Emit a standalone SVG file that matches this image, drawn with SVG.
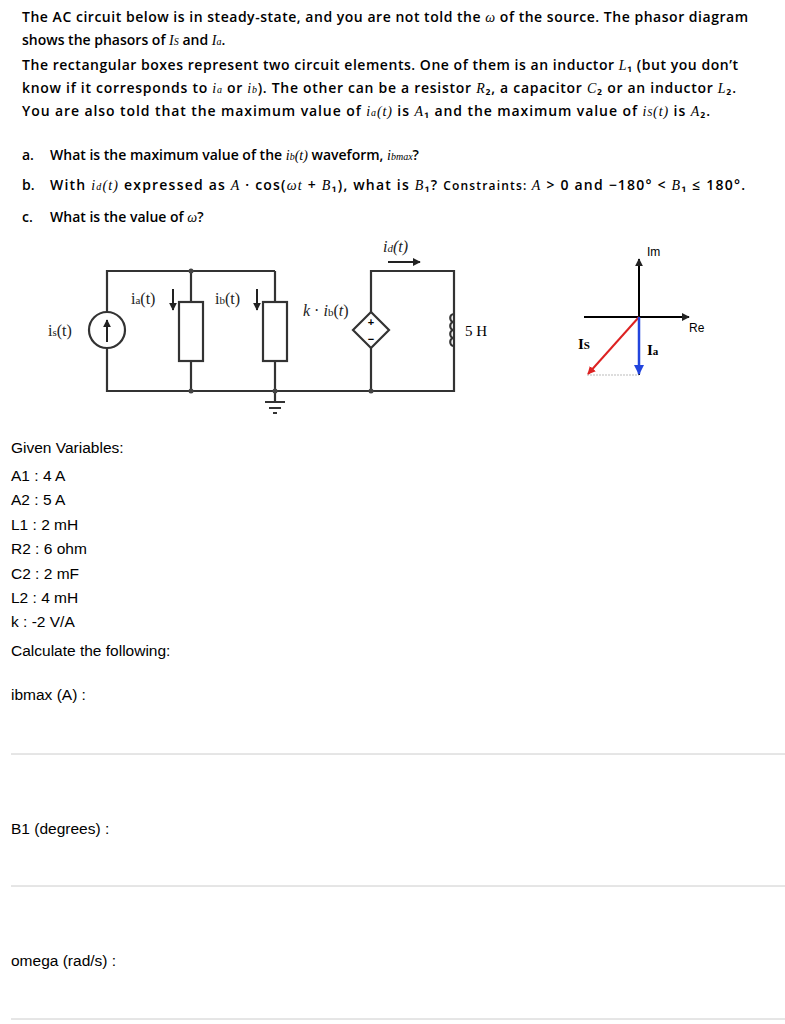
<svg xmlns="http://www.w3.org/2000/svg" width="785" height="1024" viewBox="0 0 785 1024">
<style>
.h{font-family:"Open Sans","Liberation Sans",sans-serif;font-size:14px;font-weight:600;fill:#000}
.m{font-family:"Liberation Serif",serif;font-style:italic;font-weight:normal}
.b{font-family:"Liberation Sans",Arial,sans-serif;font-size:15.5px;fill:#000}
.w{stroke:#333;stroke-width:2.2;fill:none}
.c{font-family:"Liberation Serif",serif;font-size:16px;fill:#222}
.ax{stroke:#000;stroke-width:2}
</style>
<defs>
<marker id="ar" viewBox="0 0 10 10" refX="9" refY="5" markerWidth="4" markerHeight="4" orient="auto"><path d="M0,0L10,5L0,10z" fill="#222"/></marker>
<marker id="red" viewBox="0 0 10 10" refX="9" refY="5" markerWidth="4" markerHeight="4" orient="auto"><path d="M0,0L10,5L0,10z" fill="#d22"/></marker>
<marker id="blu" viewBox="0 0 10 10" refX="9" refY="5" markerWidth="4" markerHeight="4" orient="auto"><path d="M0,0L10,5L0,10z" fill="#2244dd"/></marker>
</defs>
<rect width="785" height="1024" fill="#fff"/>
<g id="header">
<text class="h" x="22" y="22" textLength="726">The AC circuit below is in steady-state, and you are not told the <tspan class="m">ω</tspan> of the source. The phasor diagram</text>
<text class="h" x="22" y="45">shows the phasors of <tspan class="m">I<tspan font-size="10">S</tspan></tspan> and <tspan class="m">I<tspan font-size="10">a</tspan></tspan>.</text>
<text class="h" x="22" y="70" textLength="716">The rectangular boxes represent two circuit elements. One of them is an inductor <tspan class="m">L</tspan>₁ (but you don’t</text>
<text class="h" x="22" y="93" textLength="714">know if it corresponds to <tspan class="m">i<tspan font-size="10">a</tspan></tspan> or <tspan class="m">i<tspan font-size="10">b</tspan></tspan>). The other can be a resistor <tspan class="m">R</tspan>₂, a capacitor <tspan class="m">C</tspan>₂ or an inductor <tspan class="m">L</tspan>₂.</text>
<text class="h" x="22" y="116" textLength="688">You are also told that the maximum value of <tspan class="m">i<tspan font-size="10">a</tspan>(t)</tspan> is <tspan class="m">A</tspan>₁ and the maximum value of <tspan class="m">i<tspan font-size="10">S</tspan>(t)</tspan> is <tspan class="m">A</tspan>₂.</text>
<text class="h" x="22" y="160">a.</text>
<text class="h" x="50" y="160">What is the maximum value of the <tspan class="m">i<tspan font-size="10">b</tspan>(t)</tspan> waveform, <tspan class="m">i<tspan font-size="10">bmax</tspan></tspan>?</text>
<text class="h" x="22" y="190">b.</text>
<text class="h" x="50" y="190" textLength="695">With <tspan class="m">i<tspan font-size="10">d</tspan>(t)</tspan> expressed as <tspan class="m">A</tspan> · cos(<tspan class="m">ωt</tspan> + <tspan class="m">B</tspan>₁), what is <tspan class="m">B</tspan>₁? <tspan font-size="12">Constraints: </tspan><tspan class="m">A</tspan> &gt; 0 and −180° &lt; <tspan class="m">B</tspan>₁ ≤ 180°.</text>
<text class="h" x="22" y="222">c.</text>
<text class="h" x="50" y="222">What is the value of <tspan class="m">ω</tspan>?</text>
</g>
<g id="connectors">
<path class="w" d="M107,312V271H275M191,271V302M191,361V391M275,271V302M275,361V391M107,348V391H454V271H371V312M371,348V391M454,271V314M454,346V391"/>
<path class="w" d="M275,391V402M265,402H285M269,408H281M273,413H277"/>
<path d="M388,262H420" stroke="#222" stroke-width="2" marker-end="url(#ar)"/>
<path d="M173,289V310" stroke="#222" stroke-width="2" marker-end="url(#ar)"/>
<path d="M257,289V310" stroke="#222" stroke-width="2" marker-end="url(#ar)"/>
<g fill="#444"><circle cx="191" cy="271" r="2.5"/><circle cx="191" cy="391" r="2.5"/><circle cx="275" cy="391" r="2.5"/><circle cx="371" cy="391" r="2.5"/></g>
</g>
<g id="source"><circle class="w" cx="107" cy="330" r="18"/><path d="M107,342V320" stroke="#222" stroke-width="2" marker-end="url(#ar)"/><text class="c" x="48" y="336">i<tspan font-size="11">s</tspan>(t)</text></g>
<g id="elemA"><rect class="w" x="179" y="302" width="24" height="59"/><text class="c" x="131" y="304">i<tspan font-size="11">a</tspan>(t)</text></g>
<g id="elemB"><rect class="w" x="263" y="302" width="24" height="59"/><text class="c" x="215" y="304">i<tspan font-size="11">b</tspan>(t)</text></g>
<g id="dep"><path class="w" d="M371,312L389,330L371,348L353,330Z"/><text x="371" y="326" font-family="Liberation Sans" font-size="11" text-anchor="middle" font-weight="bold">+</text><text x="371" y="343" font-family="Liberation Sans" font-size="11" text-anchor="middle" font-weight="bold">−</text><text class="c" x="303" y="316"><tspan font-style="italic">k</tspan> · <tspan font-style="italic">i</tspan><tspan font-size="11">b</tspan>(<tspan font-style="italic">t</tspan>)</text></g>
<g id="ind"><path class="w" d="M454,314c-5,0-5,8,0,8c-5,0-5,8,0,8c-5,0-5,8,0,8c-5,0-5,8,0,8"/><text x="465" y="336" font-family="Liberation Serif" font-size="15">5 H</text></g>
<text class="c" x="383" y="252" font-style="italic">i<tspan font-size="11">d</tspan>(t)</text>
<g id="phasor">
<path class="ax" d="M639,375V259" marker-end="url(#ar)"/>
<path class="ax" d="M584,317H689" marker-end="url(#ar)"/>
<path d="M587,375H639" stroke="#bbb" stroke-dasharray="2,1"/>
<path d="M639,317L588,374" stroke="#d22" stroke-width="2" marker-end="url(#red)"/>
<path d="M639,317V374" stroke="#2244dd" stroke-width="2.5" marker-end="url(#blu)"/>
<text x="647" y="256" font-family="Liberation Sans" font-size="12">Im</text>
<text x="689" y="332" font-family="Liberation Sans" font-size="12">Re</text>
<text x="578" y="349" font-family="Liberation Serif" font-size="15" font-weight="bold">I<tspan font-size="11">S</tspan></text>
<text x="647" y="355" font-family="Liberation Serif" font-size="15" font-weight="bold">I<tspan font-size="11">a</tspan></text>
</g>
<g id="given">
<text class="b" x="11" y="453">Given Variables:</text>
<text class="b" x="11" y="481">A1 : 4 A</text>
<text class="b" x="11" y="505">A2 : 5 A</text>
<text class="b" x="11" y="530">L1 : 2 mH</text>
<text class="b" x="11" y="554">R2 : 6 ohm</text>
<text class="b" x="11" y="579">C2 : 2 mF</text>
<text class="b" x="11" y="603">L2 : 4 mH</text>
<text class="b" x="11" y="627">k : -2 V/A</text>
<text class="b" x="11" y="656">Calculate the following:</text>
<text class="b" x="11" y="700">ibmax (A) :</text>
<text class="b" x="11" y="834">B1 (degrees) :</text>
<text class="b" x="11" y="966">omega (rad/s) :</text>
<path d="M11,754H785M11,886H785M11,1019H785" stroke="#ccc" stroke-width="1"/>
</g>
</svg>
